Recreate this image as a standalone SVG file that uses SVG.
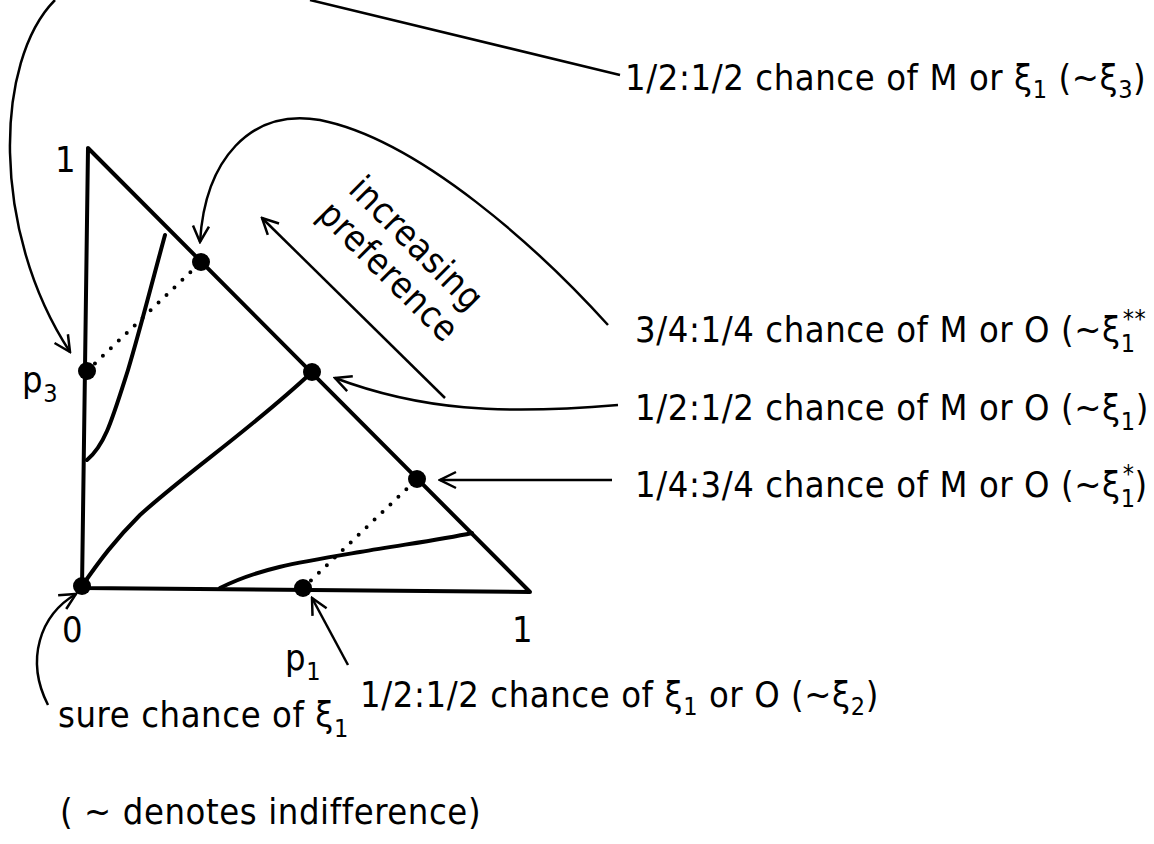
<svg xmlns="http://www.w3.org/2000/svg" width="1154" height="844" viewBox="0 0 1154 844">
<style>
text{font-family:"DejaVu Sans Condensed","Liberation Sans Narrow","DejaVu Sans",sans-serif;font-size:36px;letter-spacing:0.6px;fill:#000}
.sub{font-size:25px}
.ln{fill:none;stroke:#000;stroke-width:4;stroke-linejoin:round;stroke-linecap:round}
.cv{fill:none;stroke:#000;stroke-width:2.5}
.dot{fill:#000}
.dt{fill:none;stroke:#000;stroke-width:4;stroke-dasharray:0 11;stroke-linecap:round}
</style>
<defs>
<marker id="a" viewBox="0 0 20 20" refX="18" refY="10" markerWidth="20" markerHeight="20" markerUnits="userSpaceOnUse" orient="auto">
<path d="M2 2 L18 10 L2 18" fill="none" stroke="#000" stroke-width="2.5"/>
</marker>
</defs>
<rect width="1154" height="844" fill="#fff"/>
<g id="triangle">
<path class="ln" d="M88 148 L82 588 L530 592 Z"/>
</g>
<g id="curves">
<path class="ln" d="M165 235 C150 290 140 330 128 370 C112 420 105 445 87 460"/>
<path class="ln" d="M82 586 C100 560 115 540 140 515 C190 470 250 430 312 372"/>
<path class="ln" d="M220 588 C260 568 300 562 360 552 C400 545 440 540 472 533"/>
<path class="dt" d="M87 371 L201 262"/>
<path class="dt" d="M303 588 L417 479"/>
</g>
<g id="dots">
<circle class="dot" cx="201" cy="262" r="9"/>
<circle class="dot" cx="87" cy="371" r="9"/>
<circle class="dot" cx="312" cy="372" r="9"/>
<circle class="dot" cx="417" cy="479" r="9"/>
<circle class="dot" cx="82" cy="586" r="9"/>
<circle class="dot" cx="303" cy="588" r="9"/>
</g>
<g id="connectors">
<path class="cv" d="M310 0 L620 75"/>
<path class="cv" d="M55 0 C-5 60 -10 230 70 352" marker-end="url(#a)"/>
<path class="cv" d="M608 325 C540 250 420 140 320 120 C250 108 205 160 200 242" marker-end="url(#a)"/>
<path class="cv" d="M618 405 C500 415 420 410 335 378" marker-end="url(#a)"/>
<path class="cv" d="M612 480 L440 480" marker-end="url(#a)"/>
<path class="cv" d="M445 398 L262 218" marker-end="url(#a)"/>
<path class="cv" d="M348 665 L312 598" marker-end="url(#a)"/>
<path class="cv" d="M48 705 C25 660 40 615 76 594" marker-end="url(#a)"/>
</g>
<g id="labels">
<text x="55" y="172">1</text>
<text x="22" y="392">p<tspan class="sub" dy="10">3</tspan></text>
<text x="62" y="642">0</text>
<text x="512" y="642">1</text>
<text x="285" y="670">p<tspan class="sub" dy="10">1</tspan></text>
<text transform="translate(408,252) rotate(45)" text-anchor="middle">increasing</text>
<text transform="translate(380,280) rotate(45)" text-anchor="middle">preference</text>
<text x="625" y="90">1/2:1/2 chance of M or ξ<tspan class="sub" dy="8">1</tspan><tspan dy="-8"> (~ξ</tspan><tspan class="sub" dy="8">3</tspan><tspan dy="-8">)</tspan></text>
<text x="635" y="342">3/4:1/4 chance of M or O (~ξ<tspan class="sub" dy="10">1</tspan><tspan class="sub" dx="-13" dy="-25">**</tspan></text>
<text x="635" y="420">1/2:1/2 chance of M or O (~ξ<tspan class="sub" dy="10">1</tspan><tspan dy="-10">)</tspan></text>
<text x="635" y="497">1/4:3/4 chance of M or O (~ξ<tspan class="sub" dy="10">1</tspan><tspan class="sub" dx="-13" dy="-25">*</tspan><tspan dy="15">)</tspan></text>
<text x="360" y="707">1/2:1/2 chance of ξ<tspan class="sub" dy="8">1</tspan><tspan dy="-8"> or O (~ξ</tspan><tspan class="sub" dy="8">2</tspan><tspan dy="-8">)</tspan></text>
<text x="58" y="727">sure chance of ξ<tspan class="sub" dy="10">1</tspan></text>
<text x="60" y="824">( ~ denotes indifference)</text>
</g>
</svg>
